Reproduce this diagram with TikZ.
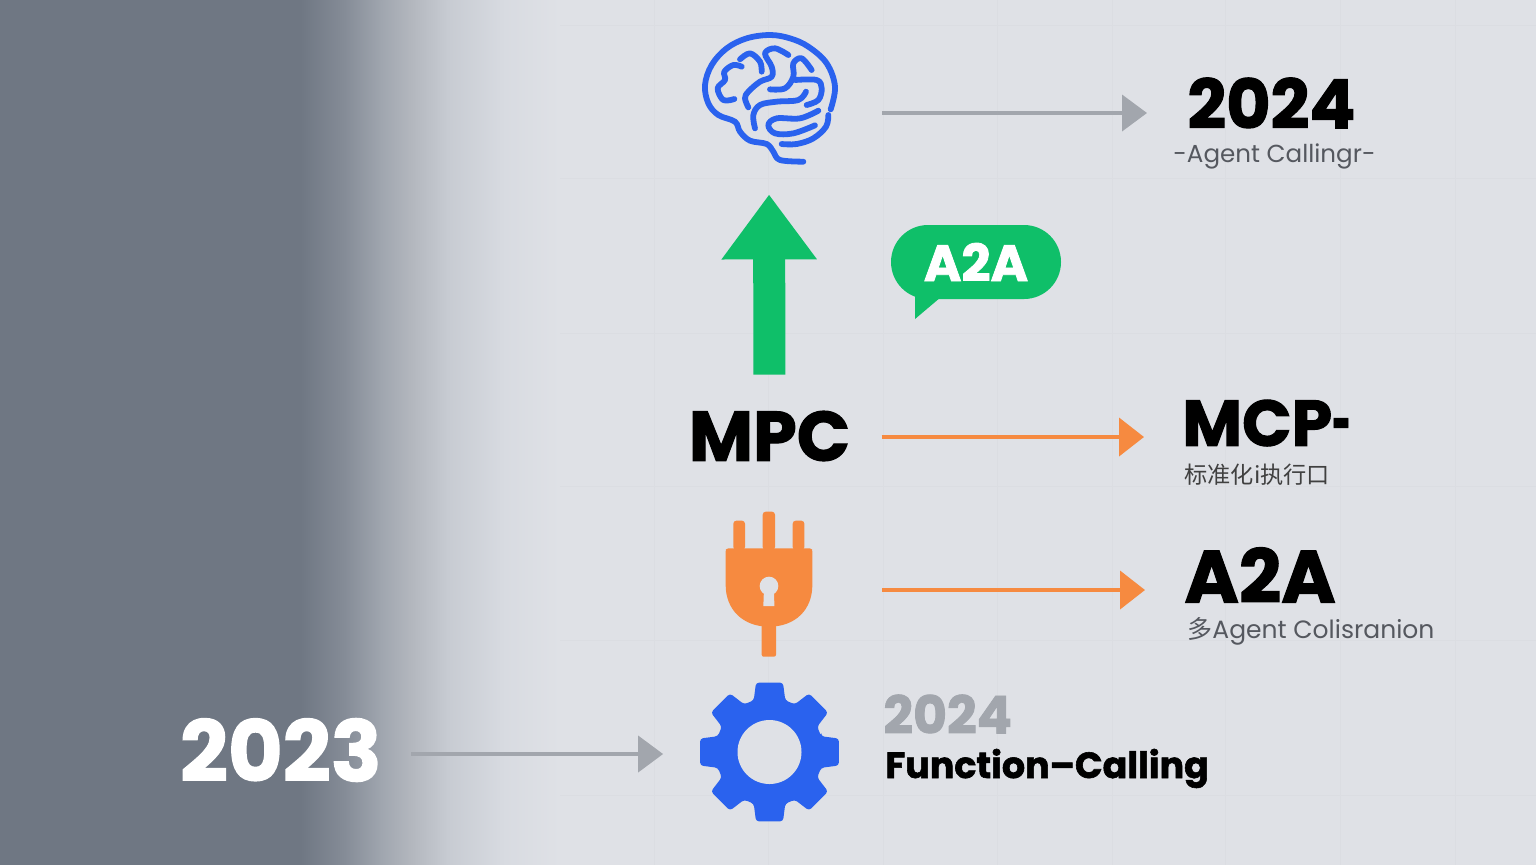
\documentclass[tikz,border=0pt]{standalone}
\usepackage{fontspec}
\setmainfont{Poppins}
\newfontfamily\headfont[FakeBold=1.6]{Poppins Bold}
\newfontfamily\cjkfont{Noto Sans CJK SC}
\usetikzlibrary{arrows.meta}
\definecolor{pagebg}{HTML}{DFE1E6}
\definecolor{gridline}{HTML}{DBDDE2}
\definecolor{fadeA}{HTML}{6F7783}
\definecolor{fadeB}{HTML}{858C97}
\definecolor{fadeC}{HTML}{A0A6AF}
\definecolor{fadeD}{HTML}{B2B6BD}
\definecolor{fadeE}{HTML}{C7CBD2}
\definecolor{fadeF}{HTML}{D8DBE1}
\definecolor{arrowgray}{HTML}{A2A6AD}
\definecolor{plugorange}{HTML}{F68A40}
\definecolor{iconblue}{HTML}{2A62EE}
\definecolor{a2agreen}{HTML}{0FBF69}
\definecolor{sublabel}{HTML}{55585F}
\tikzstyle{title} = [inner sep=0pt, font=\headfont\fontsize{35}{35}\selectfont, text=black]
\tikzstyle{sublabel} = [inner sep=0pt, font=\fontsize{12.3}{14}\selectfont, text=sublabel]
\tikzstyle{icon} = [inner sep=0pt, minimum width=67pt]
\tikzstyle{grayArrow} = [line width=2pt, draw=arrowgray, -{Triangle[length=12.5pt,width=18pt,fill=arrowgray]}]
\tikzstyle{orangeArrow} = [line width=2pt, draw=plugorange, -{Triangle[length=12.5pt,width=19pt,fill=plugorange]}]
\tikzstyle{greenArrow} = [line width=16pt, draw=a2agreen, -{Triangle[length=32.5pt,width=45.5pt,fill=a2agreen]}]
\tikzstyle{brainline} = [draw=iconblue, line width=2.9pt, line cap=round, line join=round]
\begin{document}
\begin{tikzpicture}[x=0.5pt,y=-0.5pt]
	\useasboundingbox (0,0) rectangle (1536,864);
	%background
	\fill[pagebg] (-4,-4) rectangle (1540,868);
	\fill[fadeA] (-4,-4) rectangle (301,868);
	\foreach \xa/\xb/\ca/\cb in {300/345/fadeA/fadeB,344.5/382/fadeB/fadeC,381.5/410/fadeC/fadeD,409.5/448/fadeD/fadeE,447.5/505/fadeE/fadeF,504.5/560/fadeF/pagebg}
		\shade[left color=\ca, right color=\cb] (\xa,-4) rectangle (\xb,868);
	\foreach \gx in {654,768.5,883,997,1112,1225,1340,1455}
		\draw[gridline, line width=0.5pt] (\gx,-4) -- (\gx,868);
	\foreach \gy in {25,178,333,486,640,795}
		\draw[gridline, line width=0.5pt] (560,\gy) -- (1540,\gy);

	%blocks
	\node[icon, minimum height=66pt](brain) at (769,99){};
	\node[title, minimum height=24pt](mpc) at (769.5,436){MPC};
	\node[icon, minimum height=73pt](plug) at (769,584){};
	\node[icon, minimum width=70pt, minimum height=70pt](gear) at (769.5,752){};
	\node[title, text=white, font=\headfont\fontsize{42}{42}\selectfont, anchor=east](year2023) at (382,750){2023};
	\node[title, font=\headfont\fontsize{34}{34}\selectfont, anchor=west](agentyear) at (1187,103){2024};
	\node[sublabel, anchor=base west](agentcalling) at (1173,162){-Agent Callingr-};
	\node[title, font=\headfont\fontsize{32.5}{33}\selectfont, anchor=west](mcptitle) at (1182,423){MCP\scalebox{0.5}[1]{-}};
	\node[sublabel, anchor=west, text=black!75, font=\cjkfont\fontsize{11.6}{13}\selectfont](mcpsub) at (1184,475){标准化i执行口};
	\node[title, font=\headfont\fontsize{37}{37}\selectfont, anchor=west](a2atitle) at (1184,575){A2A};
	\node[sublabel, anchor=base west, font=\fontsize{12.5}{14}\selectfont](a2asub) at (1187,638){{\cjkfont 多}Agent Colisranion};
	\node[title, text=arrowgray, font=\headfont\fontsize{26}{26}\selectfont, anchor=west](graytitle) at (883,714){2024};
	\node[title, font=\headfont\fontsize{18.2}{19}\selectfont, anchor=base west](functioncalling) at (885,778){Function–Calling};
	\node[fill=a2agreen, rounded corners=18.5pt, minimum width=85pt, minimum height=37pt, inner sep=0pt, text=white, font=\headfont\fontsize{25.5}{25.5}\selectfont](bubble) at (976,262){A2A};
	\fill[a2agreen] (915,295) -- (915,319) -- (941,297) -- cycle;

	%brain icon
	\begin{scope}[shift={(680,20)},x=0.16667pt,y=-0.16667pt]
		\draw[brainline] plot[smooth, tension=.6] coordinates {(452,268) (465,200) (440,130) (385,80) (330,55) (270,45) (200,55) (140,85) (95,135) (75,195) (85,250) (115,285) (165,305) (180,335) (210,362) (260,372) (280,395) (300,420) (370,425)};
		\draw[brainline] plot[smooth, tension=.6] coordinates {(445,285) (438,320) (400,355) (350,372) (305,372)};
		\draw[brainline] plot[smooth, tension=.6] coordinates {(163,237) (130,240) (113,205) (135,180) (133,155) (160,135) (185,140)};
		\draw[brainline] plot[smooth, tension=.6] coordinates {(180,118) (210,100) (240,125) (245,155)};
		\draw[brainline] plot[smooth, tension=.6] coordinates {(325,105) (285,85) (255,100) (275,140) (275,170) (240,185) (205,215) (195,235) (205,262)};
		\draw[brainline] plot[smooth, tension=.6] coordinates {(270,208) (315,205) (340,170) (340,130) (365,115) (395,150)};
		\draw[brainline] plot[smooth, tension=.6] coordinates {(345,180) (410,180) (425,205) (415,240) (380,255)};
		\draw[brainline] plot[smooth, tension=.6] coordinates {(378,215) (355,240) (290,245) (240,255) (220,285) (225,325)};
		\draw[brainline] plot[smooth, tension=.6] coordinates {(415,272) (360,295) (290,295) (265,315) (285,340) (340,340) (405,316)};
	\end{scope}

	%plug icon
	\begin{scope}[shift={(680,500)},x=0.16667pt,y=-0.16667pt]
		\fill[plugorange, rounded corners=1.5pt] (160,150) -- (160,62) -- (195,62) -- (195,150) -- cycle;
		\fill[plugorange, rounded corners=1.5pt] (248,150) -- (248,35) -- (285,35) -- (285,150) -- cycle;
		\fill[plugorange, rounded corners=1.5pt] (338,150) -- (338,62) -- (373,62) -- (373,150) -- cycle;
		\fill[plugorange, rounded corners=1pt] (245,370) -- (245,470) -- (288,470) -- (288,370) -- cycle;
		\fill[plugorange] (145,145) -- (389,145) .. controls (397,145) and (397,150) .. (397,155) -- (397,255) .. controls (397,330) and (345,380) .. (267,380) .. controls (190,380) and (137,330) .. (137,255) -- (137,155) .. controls (137,150) and (137,145) .. (145,145) -- cycle;
		\fill[pagebg] (267,258) circle (28);
		\fill[pagebg] (252,265) -- (282,265) -- (283,318) -- (250,318) -- cycle;
	\end{scope}

	%gear icon
	\begin{scope}[shift={(769.5,752)},x=0.16667pt,y=-0.16667pt]
		\fill[iconblue, rounded corners=1.5pt] (-17:162) \foreach \ga in {0,45,...,315}{ -- (\ga-17:162) -- (\ga-11:212) -- (\ga+11:212) -- (\ga+17:162)} -- cycle;
		\fill[pagebg] (0,0) circle (96);
	\end{scope}

	%arrows
	\coordinate (topline) at (0,113);
	\coordinate (lowline) at (0,754);
	\draw[greenArrow, shorten <=18pt, shorten >=14.5pt](mpc.north)--(brain.south);
	\draw[grayArrow, shorten <=23pt, shorten >=20pt](brain.east |- topline)--(agentyear.west |- topline);
	\draw[orangeArrow, shorten <=15.5pt, shorten >=19pt]([yshift=-0.5pt]mpc.east)--([yshift=-0.5pt]mcptitle.west |- mpc);
	\draw[orangeArrow, shorten <=23pt, shorten >=19.5pt]([yshift=-3pt]plug.east)--([yshift=-3pt]plug.east -| a2atitle.west);
	\draw[grayArrow, shorten <=14.5pt, shorten >=18pt](year2023.east |- lowline)--(gear.west |- lowline);
\end{tikzpicture}
\end{document}
